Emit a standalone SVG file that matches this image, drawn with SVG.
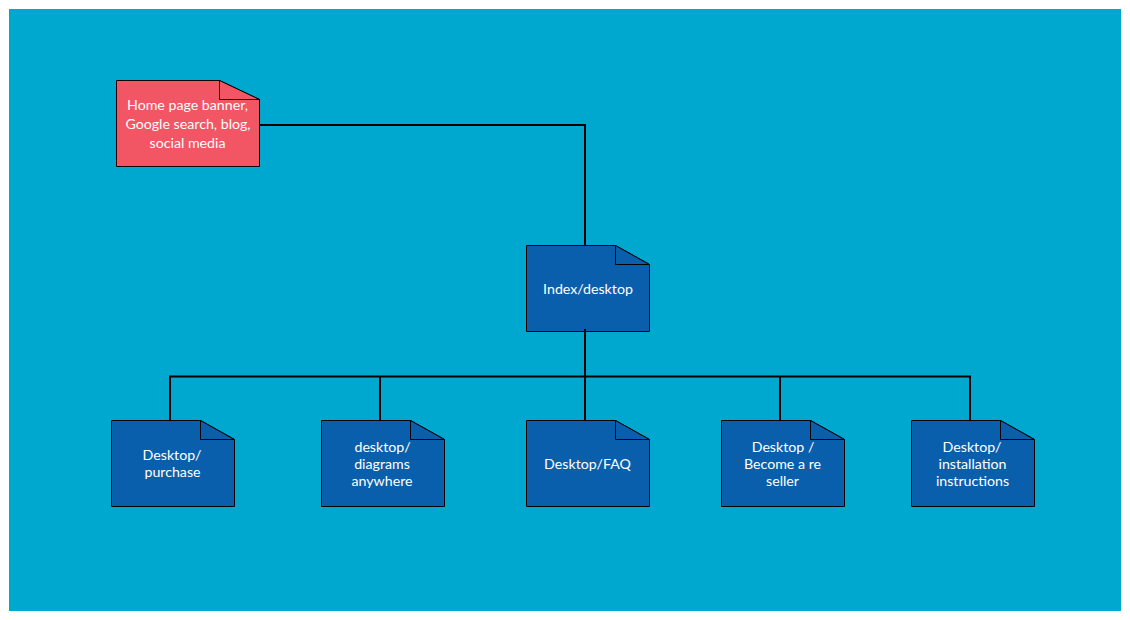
<svg xmlns="http://www.w3.org/2000/svg" width="1130" height="620" viewBox="0 0 1130 620">
<style>
.note{stroke:#000;stroke-width:1;stroke-linejoin:miter}
.blue{fill:#0a5fac}
.red{fill:#f25564}
.lbl{font-family:"Lato","Noto Sans",sans-serif;font-size:14.2px;fill:#fff;text-anchor:middle}
.conn{fill:none;stroke:#000;stroke-width:2}
</style>
<rect width="1130" height="620" fill="#fff"/>
<rect x="9" y="9" width="1112" height="602" fill="#00a8d0"/>
<g id="connectors">
<path class="conn" d="M259 125H585V246"/>
<path class="conn" d="M585 376.500V420"/>
<path class="conn" d="M170 420V376.500H970V420"/>
<path class="conn" d="M380 376.500V420"/>
<path class="conn" d="M780 376.500V420"/>
</g>
<g id="node-source">
<path class="note red" d="M116.500 80.500H219.500L259.500 99.500V166.500H116.500Z"/>
<path class="note red" d="M219.500 80.500V99.500H259.500Z"/>
<text class="lbl" x="187.500" y="110">Home page banner,</text>
<text class="lbl" x="188" y="129">Google search, blog,</text>
<text class="lbl" x="187.500" y="148">social media</text>
</g>
<g id="node-index">
<path class="note blue" d="M526.500 245.500H615.500L649.500 264.500V331.500H526.500Z"/>
<path class="note blue" d="M615.500 245.500V264.500H649.500Z"/>
<text class="lbl" x="588" y="294">Index/desktop</text>
</g>
<g id="trunk">
<path class="conn" d="M585 329V377"/>
</g>
<g id="node-purchase">
<path class="note blue" d="M111.500 420.500H200.500L234.500 439.500V506.500H111.500Z"/>
<path class="note blue" d="M200.500 420.500V439.500H234.500Z"/>
<text class="lbl" x="172" y="460">Desktop/</text>
<text class="lbl" x="172.500" y="477">purchase</text>
</g>
<g id="node-diagrams">
<path class="note blue" d="M321.500 420.500H410.500L444.500 439.500V506.500H321.500Z"/>
<path class="note blue" d="M410.500 420.500V439.500H444.500Z"/>
<text class="lbl" x="382.500" y="452">desktop/</text>
<text class="lbl" x="382" y="469">diagrams</text>
<text class="lbl" x="382" y="486">anywhere</text>
</g>
<g id="node-faq">
<path class="note blue" d="M526.500 420.500H615.500L649.500 439.500V506.500H526.500Z"/>
<path class="note blue" d="M615.500 420.500V439.500H649.500Z"/>
<text class="lbl" x="587.500" y="469">Desktop/FAQ</text>
</g>
<g id="node-reseller">
<path class="note blue" d="M721.500 420.500H810.500L844.500 439.500V506.500H721.500Z"/>
<path class="note blue" d="M810.500 420.500V439.500H844.500Z"/>
<text class="lbl" x="783" y="452">Desktop /</text>
<text class="lbl" x="782.500" y="469">Become a re</text>
<text class="lbl" x="782.500" y="486">seller</text>
</g>
<g id="node-install">
<path class="note blue" d="M911.500 420.500H1000.500L1034.500 439.500V506.500H911.500Z"/>
<path class="note blue" d="M1000.500 420.500V439.500H1034.500Z"/>
<text class="lbl" x="972" y="452">Desktop/</text>
<text class="lbl" x="972.500" y="469">installation</text>
<text class="lbl" x="972.500" y="486">instructions</text>
</g>
</svg>
